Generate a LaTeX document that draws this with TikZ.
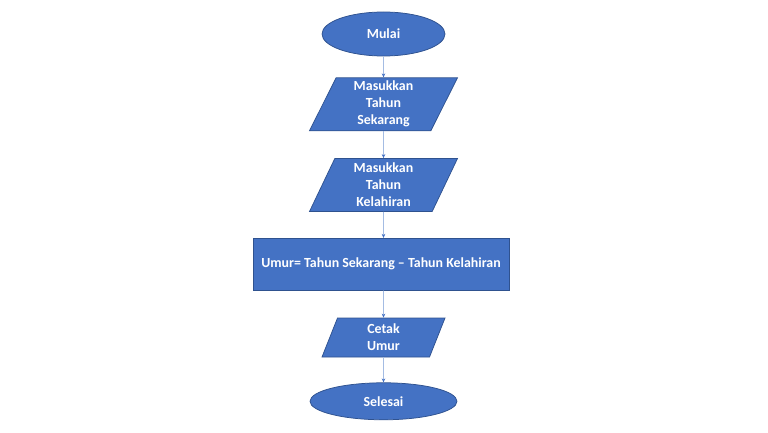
\documentclass[tikz,border=0pt]{standalone}
\usepackage{fontspec}
\setmainfont{Carlito}
\usetikzlibrary{shapes.geometric,arrows.meta,positioning}
\definecolor{boxblue}{HTML}{4472C4}
\definecolor{boxedge}{HTML}{2F528F}
\definecolor{flowline}{HTML}{A4BCE3}
\tikzset
{
    shapebase/.style = {draw=boxedge, fill=boxblue, line width=0.75pt,
                          text=white, align=center, inner sep=0pt,
                          font=\fontsize{13.9}{17}\selectfont\bfseries},
    terminal/.style = {shapebase, ellipse},
    iobox/.style = {shapebase, trapezium, trapezium left angle=60,
                          trapezium right angle=120,
                          trapezium stretches body=true},
    procbox/.style = {shapebase, rectangle},
    flow/.style = {draw=flowline, line width=0.75pt,
                          -{Stealth[length=4pt,width=3.5pt,color=boxblue]}}
}
\begin{document}
\begin{tikzpicture}[x=1pt, y=-1pt, node distance=27pt]
    % page frame
    \useasboundingbox (0,0) rectangle (768,433);
    \node[terminal, minimum width=123pt, minimum height=44pt]
        (mulai) at (383.5,34) {Mulai};
    \node[iobox, minimum width=148pt, minimum height=53pt,
        below=21pt of mulai] (insekarang) {Masukkan\\Tahun\\Sekarang};
    \node[iobox, minimum width=148pt, minimum height=53pt,
        below=of insekarang] (inlahir) {Masukkan\\Tahun\\Kelahiran};
    \node[procbox, minimum width=256pt, minimum height=52pt,
        below=26pt of inlahir, xshift=-2.5pt] (hitung)
        {Umur= Tahun Sekarang -- Tahun Kelahiran};
    \node[iobox, minimum width=123pt, minimum height=39pt,
        below=27pt of hitung, xshift=2.5pt] (cetak) {Cetak\\Umur};
    \node[terminal, minimum width=147pt, minimum height=37pt,
        below=25pt of cetak] (selesai) {Selesai};
    % connectors
    \draw[flow] (mulai) -- (insekarang);
    \draw[flow] (insekarang) -- (inlahir);
    \draw[flow] (inlahir) -- (inlahir |- hitung.north);
    \draw[flow] (cetak |- hitung.south) -- (cetak);
    \draw[flow] (cetak) -- (selesai);
\end{tikzpicture}
\end{document}
